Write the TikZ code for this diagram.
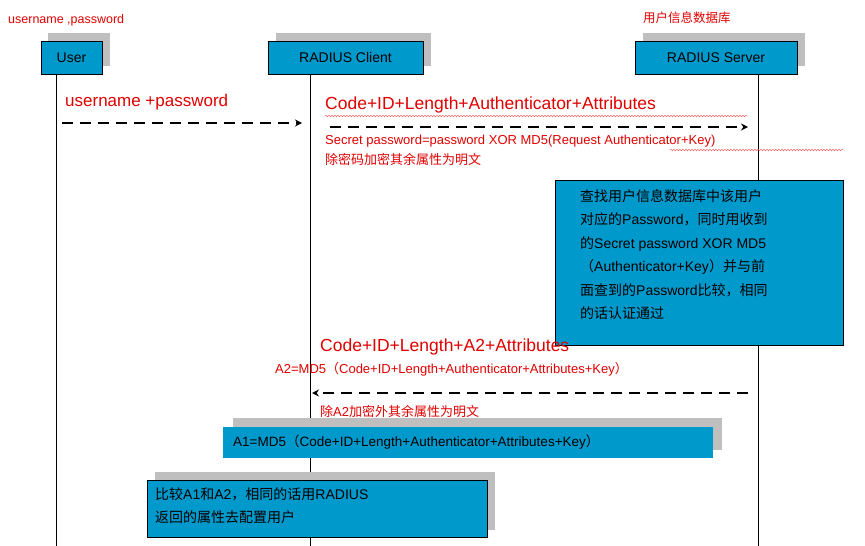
\documentclass[tikz,border=0pt]{standalone}
\usepackage{fontspec}
\setmainfont{Liberation Sans}
\newfontfamily\cjk{Noto Sans CJK SC}
\usetikzlibrary{arrows.meta,decorations.pathmorphing}
\definecolor{boxblue}{HTML}{0099CC}
\definecolor{shade}{HTML}{BFBFBF}
\definecolor{txtred}{HTML}{E00000}
\tikzset{
 x=1pt,y=-1pt,
 life/.style={line width=0.9pt},
 msg/.style={line width=2pt,dash pattern=on 11pt off 7pt,-{Stealth[length=7pt,width=7pt]}},
 red/.style={text=txtred,inner sep=0,anchor=west},
 box/.style={fill=boxblue,draw=black,line width=0.6pt},
 sh/.style={fill=shade},
 wavy/.style={draw=red!70,line width=0.4pt,decorate,decoration={snake,amplitude=0.8pt,segment length=3pt}}
}
\begin{document}
\begin{tikzpicture}
\useasboundingbox (0,0) rectangle (865,546);
% shadows
\fill[sh] (48,33) rectangle (110,66);
\fill[sh] (276,33) rectangle (431,66);
\fill[sh] (643,33) rectangle (805,66);
% heads
\draw[box] (41,41) rectangle (102,74); \node (user) at (71.5,57.5) {\fontsize{14}{16}\selectfont User};
\draw[box] (268,41) rectangle (423,74); \node (client) at (345.5,57.5) {\fontsize{14}{16}\selectfont RADIUS Client};
\draw[box] (635,41) rectangle (797,74); \node (server) at (716,57.5) {\fontsize{14}{16}\selectfont RADIUS Server};
\coordinate (uT) at (56,74); \coordinate (uB) at (56,546);
\coordinate (cT) at (310,74); \coordinate (cB) at (310,546);
\coordinate (sT) at (758,74); \coordinate (sB) at (758,546);
\draw[life] (uT) -- (uB);
\draw[life] (cT) -- (cB);
\draw[life] (sT) -- (sB);
\node[red] (t1) at (8,20) {\fontsize{12.5}{14}\selectfont username ,password};
\node[red] (t2) at (643,18) {\fontsize{12.5}{14}\selectfont\cjk 用户信息数据库};
% message 1
\coordinate (m1a) at (62,123); \coordinate (m1b) at (302,123);
\draw[msg] (m1a) -- (m1b);
\node[red] (l1) at (65,102) {\fontsize{17}{19}\selectfont username +password};
% message 2
\coordinate (m2a) at (330,127); \coordinate (m2b) at (748,127);
\draw[msg] (m2a) -- (m2b);
\node[red] (l2) at (325,105) {\fontsize{17.5}{19}\selectfont Code+ID+Length+Authenticator+Attributes};
\draw[wavy] (325,116) -- (748,116);
\node[red] (l3) at (325,141) {\fontsize{13}{15}\selectfont Secret password=password XOR MD5(Request Authenticator+Key)};
\draw[wavy] (670,150) -- (843,150);
\node[red] (l4) at (325,160) {\fontsize{13}{15}\selectfont\cjk 除密码加密其余属性为明文};
% server note
\draw[box] (555,180) rectangle (843,345);
\node[anchor=north west,align=left,inner sep=0,font=\fontsize{14}{23.5}\selectfont] (note) at (580,189)
 {{\cjk 查找用户信息数据库中该用户}\\{\cjk 对应的}Password{\cjk ，同时用收到}\\{\cjk 的}Secret password XOR MD5\\{\cjk （}Authenticator+Key{\cjk ）并与前}\\{\cjk 面查到的}Password{\cjk 比较，相同}\\{\cjk 的话认证通过}};
% message 3
\node[red] (l5) at (320,347) {\fontsize{17.5}{19}\selectfont Code+ID+Length+A2+Attributes};
\node[red] (l6) at (275,369) {\fontsize{13}{15}\selectfont A2=MD5{\cjk （}Code+ID+Length+Authenticator+Attributes+Key{\cjk ）}};
\coordinate (m3a) at (748,393); \coordinate (m3b) at (312,393);
\draw[msg] (m3a) -- (m3b);
\node[red] (l7) at (320,412) {\fontsize{13}{15}\selectfont{\cjk 除}A2{\cjk 加密外其余属性为明文}};
% A1 box
\fill[sh] (233,418) rectangle (722,450);
\draw[box,draw=none] (223,427) rectangle (713,458);
\node[anchor=west,inner sep=0] (a1) at (233,442) {\fontsize{13.5}{15}\selectfont A1=MD5{\cjk （}Code+ID+Length+Authenticator+Attributes+Key{\cjk ）}};
% compare box
\fill[sh] (155,472) rectangle (495,530);
\draw[box] (147,480) rectangle (487,537);
\node[anchor=north west,align=left,inner sep=0,font=\fontsize{14}{23}\selectfont] (cmp) at (155,487)
 {{\cjk 比较}A1{\cjk 和}A2{\cjk ，相同的话用}RADIUS\\{\cjk 返回的属性去配置用户}};
\end{tikzpicture}
\end{document}
